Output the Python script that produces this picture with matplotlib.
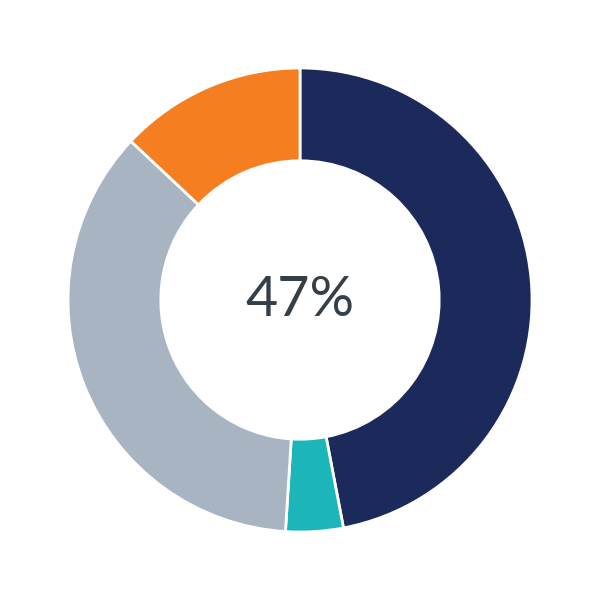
import matplotlib.pyplot as plt

labels = ['A', 'B', 'C', 'D']
values = [47, 4, 36, 13]
colors = ['#1b2a5a', '#1cb5b9', '#a9b4c2', '#f47e20']
center_text = '47%'

fig = plt.figure(figsize=(6, 6), dpi=100)
ax = fig.add_axes([0, 0, 1, 1])
ax.pie(values, colors=colors, startangle=90, counterclock=False, radius=1.0,
       wedgeprops=dict(width=0.4, edgecolor='white', linewidth=2))
ax.text(0, 0, center_text, ha='center', va='center', fontsize=40,
        family=['Lato', 'DejaVu Sans'], color='#353f48')
ax.set_xlim(-1.293, 1.293)
ax.set_ylim(-1.293, 1.293)
ax.set_aspect('equal')
ax.axis('off')
fig.savefig('out.png', dpi=100)
